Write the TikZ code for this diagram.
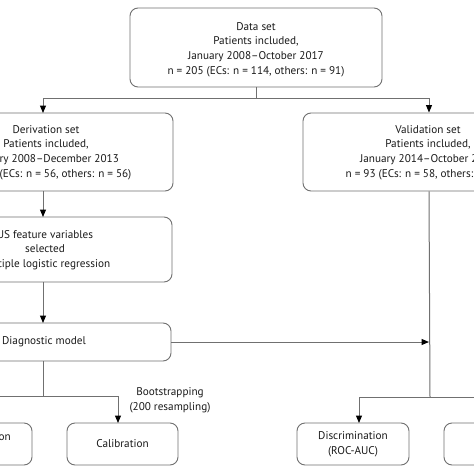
\documentclass[tikz,border=0pt]{standalone}
\usepackage{fontspec}
\setmainfont{PT Sans}
\usetikzlibrary{arrows.meta}
\definecolor{linegray}{HTML}{707070}
\definecolor{textc}{HTML}{1A1A1A}
\tikzset{
  box/.style={draw=linegray, line width=0.9pt, rounded corners=8pt, align=center, text=textc, inner sep=0pt,
    font=\fontsize{11.2}{14.6}\selectfont},
  conn/.style={draw=linegray, line width=1pt},
  arr/.style={conn, -{Triangle[width=6pt,length=7.5pt,color=black]}},
  lbl/.style={align=center, text=textc, font=\fontsize{11.2}{14.6}\selectfont},
}
\begin{document}
\begin{tikzpicture}[x=1pt,y=-1pt]
\useasboundingbox (0,0) rectangle (474,474);
\fill[white] (0,0) rectangle (474,474);
\clip (0,0) rectangle (474,474);
\node[box, minimum width=252pt, minimum height=79pt] (top) at (256,47.5) {};
\node[lbl] (toptext) at (256,49.5) {Data set\\Patients included,\\January 2008--October 2017\\n = 205 (ECs: n = 114, others: n = 91)};
\node[box, minimum width=256pt, minimum height=78pt] (der) at (45,152) {};
\node[lbl] (dertext) at (46,152.5) {Derivation set\\Patients included,\\January 2008--December 2013\\n = 112 (ECs: n = 56, others: n = 56)};
\node[box, minimum width=252pt, minimum height=78pt] (val) at (429,152) {};
\node[lbl] (valtext) at (428,152.5) {Validation set\\Patients included,\\January 2014--October 2017\\n = 93 (ECs: n = 58, others: n = 35)};
\node[box, minimum width=256pt, minimum height=65pt] (lr) at (44,249.5) {};
\node[lbl] (lrtext) at (45,250) {US feature variables\\selected\\Multiple logistic regression};
\node[box, minimum width=254pt, minimum height=38pt] (diag) at (44,342) {Diagnostic model};
\node[box, minimum width=112pt, minimum height=42pt] (ldisc) at (-24,444) {};
\node[lbl] (ldisctext) at (-24,437) {Discrimination};
\node[box, minimum width=111pt, minimum height=42pt] (calib) at (122.5,444) {Calibration};
\node[box, minimum width=112pt, minimum height=42pt] (disc) at (353,444) {Discrimination\\(ROC-AUC)};
\node[box, minimum width=112pt, minimum height=42pt] (rcal) at (500,444) {Calibration};
\node[lbl] (boot) at (170,400) {Bootstrapping\\(200 resampling)};
% connectors
\draw[conn] (top.south) -- (256,98) coordinate (j1);
\draw[arr] (j1) -| (43,113);
\draw[arr] (j1) -| (val.north);
\draw[arr] (43,191) -- (43,217);
\draw[arr] (43,282) -- (43,323);
\draw[arr] (diag.east) -- (429,342);
\draw[conn] (val.south) -- (430,397) coordinate (j3);
\draw[arr] (j3) -| (359,423);
\draw[arr] (j3) -| (rcal.north);
\draw[conn] (43,361) -- (43,396) coordinate (j2);
\draw[arr] (j2) -| (118,423);
\draw[arr] (j2) -| (ldisc.north);
\end{tikzpicture}
\end{document}
